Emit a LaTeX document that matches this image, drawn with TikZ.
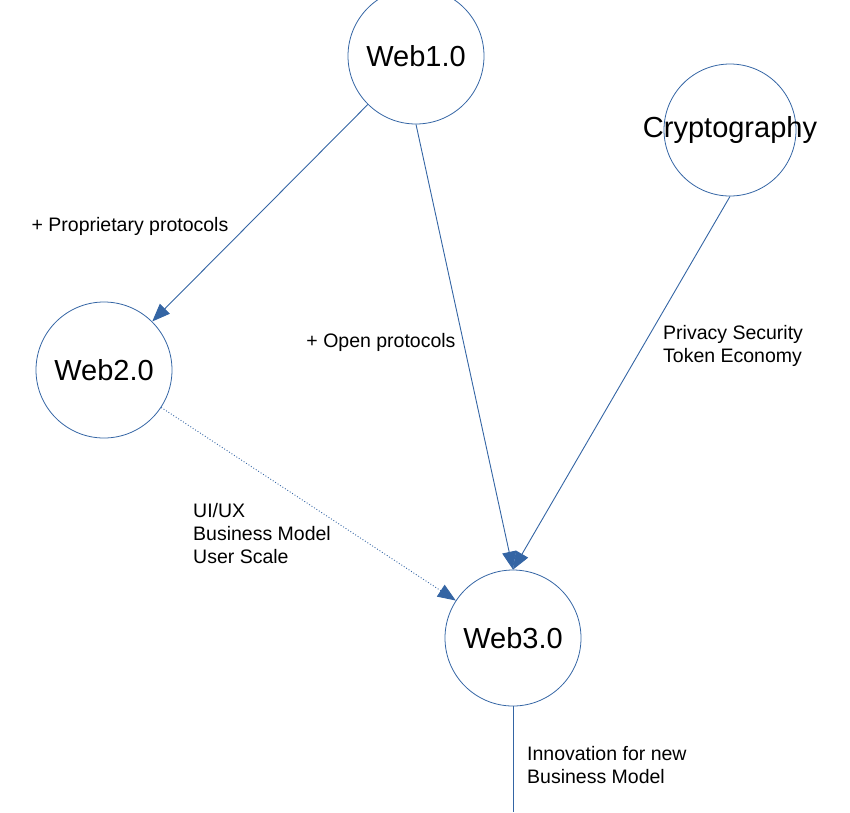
\documentclass[tikz,border=0pt]{standalone}
\usepackage{fontspec}
\setmainfont{Liberation Sans}
\usetikzlibrary{arrows.meta}
\definecolor{lb}{HTML}{3465A4}
\begin{document}
\begin{tikzpicture}[x=1pt,y=-1pt,
  circ/.style={circle,draw=lb,line width=0.8pt,minimum size=136pt,inner sep=0pt,font=\fontsize{29}{33}\selectfont},
  con/.style={draw=lb,line width=0.9pt,-{Triangle[length=18pt,width=14pt]}},
  lab/.style={font=\fontsize{19.5}{23}\selectfont,align=left,inner sep=0pt}]
\useasboundingbox (0,0) rectangle (850,812);
\node[circ] (w1) at (416,56) {Web1.0};
\node[circ,minimum size=132pt] (cr) at (730,130) {};
\node[font=\fontsize{29}{33}\selectfont,inner sep=0pt] (crt) at (cr.center) {Cryptography};
\node[circ] (w2) at (104,370) {Web2.0};
\node[circ] (w3) at (513,638) {Web3.0};
\coordinate (end) at (513,812);
\draw[con] (w1) -- (w2);
\draw[con] (w1.south) -- (w3.north);
\draw[con] (cr.south) -- (w3.north);
\draw[con,dotted] (w2) -- (w3);
\draw[draw=lb,line width=0.9pt] (w3) -- (end);
\node[lab] at (130,226) {+ Proprietary protocols};
\node[lab] at (381,342) {+ Open protocols};
\node[lab,anchor=north west] at (663,325) {Privacy Security\\Token Economy};
\node[lab,anchor=north west] at (193,503) {UI/UX\\Business Model\\User Scale};
\node[lab,anchor=north west] at (527,746) {Innovation for new\\Business Model};
\end{tikzpicture}
\end{document}
